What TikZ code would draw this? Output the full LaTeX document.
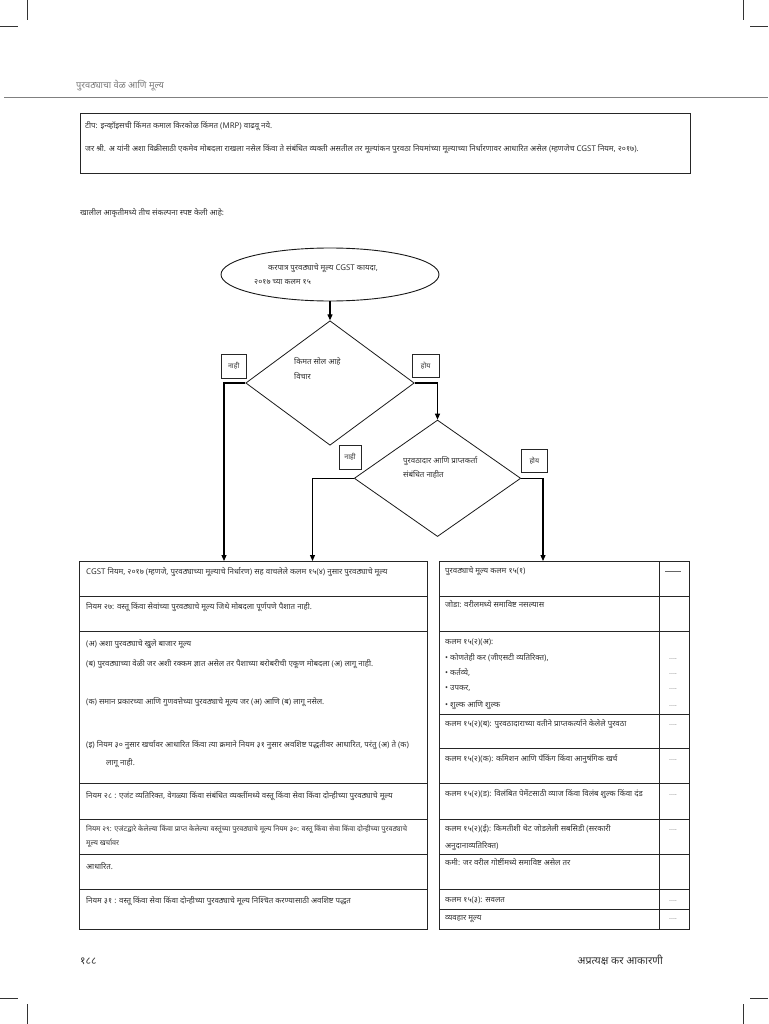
\documentclass[tikz,border=0pt]{standalone}
\usepackage{fontspec}
\setmainfont{Noto Sans}[Script=Devanagari]
\usetikzlibrary{shapes.geometric,arrows.meta}
\definecolor{ink}{HTML}{333333}
\definecolor{hdr}{HTML}{7A7A7A}
\begin{document}
\begin{tikzpicture}[x=1pt,y=-1pt,
  txt/.style={anchor=base west,inner sep=0pt,text=ink,font=\fontsize{7.9}{9}\selectfont},
  hd/.style={anchor=base west,inner sep=0pt,text=hdr,font=\fontsize{9.2}{11}\selectfont},
  frame/.style={draw=black!85,line width=1.1pt,inner sep=0pt,anchor=north west},
  cell/.style={draw=black!85,line width=1pt,inner sep=0pt,anchor=north west},
  lab/.style={draw=black!85,line width=1pt,inner sep=0pt,text=ink,font=\fontsize{7}{8}\selectfont},
  dia/.style={draw=black!90,line width=0.8pt,diamond,inner sep=0pt},
  arr/.style={draw=black,line width=1.1pt,-{Triangle[length=6pt,width=5pt]}},
  dsh/.style={anchor=base,inner sep=0pt,text=black!45,font=\fontsize{6}{7}\selectfont},
  crop/.style={draw=black!80,line width=0.6pt}]
\useasboundingbox (0,0) rectangle (768,1024);
% crop marks
\draw[crop] (27,0) -- (27,20);
\draw[crop] (0,26.5) -- (18,26.5);
\draw[crop] (743,0) -- (743,20);
\draw[crop] (750,26.5) -- (768,26.5);
\draw[crop] (27,1004) -- (27,1024);
\draw[crop] (0,998) -- (18,998);
\draw[crop] (743,1004) -- (743,1024);
\draw[crop] (750,998) -- (768,998);
% header
\node[hd] (head) at (76,89) {पुरवठ्याचा वेळ आणि मूल्य};
\draw[draw=black!50,line width=1.4pt] (4,97.5) -- (768,97.5);
% note box
\node[frame,minimum width=610,minimum height=60] (note) at (80,113) {};
\node[txt] (n1) at (85,128.5) {टीप: इन्व्हॉइसची किंमत कमाल किरकोळ किंमत (MRP) वाढवू नये.};
\node[txt] (n2) at (85,151.5) {जर श्री. अ यांनी अशा विक्रीसाठी एकमेव मोबदला राखला नसेल किंवा ते संबंधित व्यक्ती असतील तर मूल्यांकन पुरवठा नियमांच्या मूल्याच्या निर्धारणावर आधारित असेल (म्हणजेच CGST नियम, २०१७).};
\node[txt] (intro) at (80,215.5) {खालील आकृतीमध्ये तीच संकल्पना स्पष्ट केली आहे:};
% flowchart
\node[draw=black!90,line width=0.9pt,ellipse,minimum width=218,minimum height=53,inner sep=0pt] (e) at (330,274.5) {};
\node[txt] (e1) at (268,270.5) {करपात्र पुरवठ्याचे मूल्य CGST कायदा,};
\node[txt] (e2) at (254,284.5) {२०१७ च्या कलम १५};
\node[dia,minimum width=168.5,minimum height=124.5] (d1) at (330,383) {};
\node[txt] (d1a) at (294,364.5) {किमत सोल आहे};
\node[txt] (d1b) at (294,379.5) {विचार};
\node[dia,minimum width=166.5,minimum height=116.5] (d2) at (437.5,478.3) {};
\node[txt] (d2a) at (403,463.5) {पुरवठादार आणि प्राप्तकर्ता};
\node[txt] (d2b) at (403,477.5) {संबंधित नाहीत};
\node[lab,minimum width=25,minimum height=24] (no1) at (233.7,366) {नाही};
\node[lab,minimum width=27,minimum height=23] (yes1) at (425.7,365.5) {होय};
\node[lab,minimum width=22,minimum height=24] (no2) at (350,457) {नाही};
\node[lab,minimum width=26,minimum height=23] (yes2) at (534.3,460.5) {होय};
% tables
\foreach \t/\b/\n in {561/596/L1,596/631/L2,631/783/L3,783/819/L4,819/853.5/L5,853.5/888.5/L6,888.5/929/L7}{
  \node[cell,minimum width=347.5,minimum height=\b-\t] (\n) at (79,\t) {};
}
\foreach \t/\b/\n in {561/596/R1,596/631/R2,631/713.5/R3,713.5/747.5/R4,747.5/783/R5,783/818.5/R6,818.5/853.5/R7,853.5/888.5/R8,888.5/908.5/R9,908.5/929/R10}{
  \node[cell,minimum width=219.5,minimum height=\b-\t] (\n) at (439,\t) {};
  \node[cell,minimum width=30.5,minimum height=\b-\t] (\n d) at (658.5,\t) {};
}
\coordinate (c1) at (224,561);
\coordinate (c2) at (312.5,561);
\coordinate (c3) at (543,561);
\draw[arr] (e.south) -- (d1.north);
\draw[arr] (d1.west) -| (c1);
\draw[arr] (d1.east) -| (d2.north);
\draw[arr] (d2.west) -| (c2);
\draw[arr] (d2.east) -| (c3);
% left texts
\node[txt] at (86,574.5) {CGST नियम, २०१७ (म्हणजे, पुरवठ्याच्या मूल्याचे निर्धारण) सह वाचलेले कलम १५(४) नुसार पुरवठ्याचे मूल्य};
\node[txt] at (86,609.5) {नियम २७: वस्तू किंवा सेवांच्या पुरवठ्याचे मूल्य जिथे मोबदला पूर्णपणे पैशात नाही.};
\node[txt] at (86,646.5) {(अ) अशा पुरवठ्याचे खुले बाजार मूल्य};
\node[txt] at (86,666.5) {(ब) पुरवठ्याच्या वेळी जर अशी रक्कम ज्ञात असेल तर पैशाच्या बरोबरीची एकूण मोबदला (अ) लागू नाही.};
\node[txt] at (86,704.5) {(क) समान प्रकारच्या आणि गुणवत्तेच्या पुरवठ्याचे मूल्य जर (अ) आणि (ब) लागू नसेल.};
\node[txt] at (86,747.5) {(इ) नियम ३० नुसार खर्चावर आधारित किंवा त्या क्रमाने नियम ३१ नुसार अवशिष्ट पद्धतीवर आधारित, परंतु (अ) ते (क)};
\node[txt] at (106,765.5) {लागू नाही.};
\node[txt] at (86,798.5) {नियम २८ : एजंट व्यतिरिक्त, वेगळ्या किंवा संबंधित व्यक्तींमध्ये वस्तू किंवा सेवा किंवा दोन्हीच्या पुरवठ्याचे मूल्य};
\node[txt,font=\fontsize{7.2}{9}\selectfont] at (86,831.5) {नियम २९: एजंटद्वारे केलेल्या किंवा प्राप्त केलेल्या वस्तूंच्या पुरवठ्याचे मूल्य नियम ३०: वस्तू किंवा सेवा किंवा दोन्हीच्या पुरवठ्याचे};
\node[txt,font=\fontsize{7.2}{9}\selectfont] at (86,845.5) {मूल्य खर्चावर};
\node[txt] at (86,869.5) {आधारित.};
\node[txt] at (86,903.5) {नियम ३१ : वस्तू किंवा सेवा किंवा दोन्हीच्या पुरवठ्याचे मूल्य निश्चित करण्यासाठी अवशिष्ट पद्धत};
% right texts
\node[txt] at (445,573.5) {पुरवठ्याचे मूल्य कलम १५(१)};
\node[txt] at (445,607.5) {जोडा: वरीलमध्ये समाविष्ट नसल्यास};
\node[txt] at (445,644.5) {कलम १५(२)(अ):};
\node[txt] at (445,660.5) {• कोणतेही कर (जीएसटी व्यतिरिक्त),};
\node[txt] at (445,675.5) {• कर्तव्ये,};
\node[txt] at (445,690.5) {• उपकर,};
\node[txt] at (445,707.5) {• शुल्क आणि शुल्क};
\node[txt] at (445,726.5) {कलम १५(२)(ब): पुरवठादाराच्या वतीने प्राप्तकर्त्याने केलेले पुरवठा};
\node[txt] at (445,761.5) {कलम १५(२)(क): कमिशन आणि पॅकिंग किंवा आनुषंगिक खर्च};
\node[txt] at (445,796.5) {कलम १५(२)(ड): विलंबित पेमेंटसाठी व्याज किंवा विलंब शुल्क किंवा दंड};
\node[txt] at (445,831.5) {कलम १५(२)(ई): किमतीशी थेट जोडलेली सबसिडी (सरकारी};
\node[txt] at (445,848.5) {अनुदानाव्यतिरिक्त)};
\node[txt] at (445,865.5) {कमी: जर वरील गोष्टींमध्ये समाविष्ट असेल तर};
\node[txt] at (445,902.5) {कलम १५(३): सवलत};
\node[txt] at (445,920.5) {व्यवहार मूल्य};
% dash column
\draw[draw=black!60,line width=0.8pt] (665,571) -- (681,571);
\foreach \y in {660,675,690,707,726,761,796,831,902,920}{
  \node[dsh] at (673,\y) {-{}-{}-{}-};
}
% footer
\node[txt,font=\fontsize{10.5}{12}\selectfont] (pg) at (80,964) {१८८};
\node[anchor=base east,inner sep=0pt,text=ink,font=\fontsize{10.6}{12}\selectfont] (ft) at (663,964) {अप्रत्यक्ष कर आकारणी};
\end{tikzpicture}
\end{document}
